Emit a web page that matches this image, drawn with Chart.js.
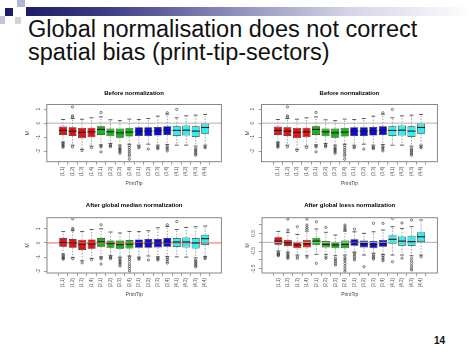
<!DOCTYPE html>
<html><head><meta charset="utf-8">
<script src="https://cdn.jsdelivr.net/npm/chart.js@4.4.1/dist/chart.umd.min.js"></script>
<style>
html,body{margin:0;padding:0;background:#fff;}
body{width:474px;height:355px;position:relative;overflow:hidden;font-family:'Liberation Sans',Arial,sans-serif;}
canvas{position:absolute;}
.sq{position:absolute;}
#bar{position:absolute;left:26px;top:7px;width:448px;height:9px;background:linear-gradient(to right,#1e1e68 0%,#3c3c84 18%,#8a8ab8 45%,#d4d4e6 72%,#ffffff 100%);}
#title{position:absolute;left:28px;top:18.4px;font-size:23.5px;line-height:22.3px;color:#111;white-space:nowrap;}
#page{position:absolute;left:434px;top:335px;font-size:10px;font-weight:bold;color:#111;}
</style></head><body>
<div class="sq" style="left:17px;top:0;width:8px;height:7px;background:#b4b4d8"></div>
<div class="sq" style="left:5px;top:8px;width:8px;height:8px;background:#1e1e66"></div>
<div class="sq" style="left:0;top:16px;width:5px;height:8px;background:#c4c4de"></div>
<div class="sq" style="left:15px;top:17px;width:6px;height:7px;background:#d4d4d4"></div>
<div id="bar"></div>
<div id="title">Global normalisation does not correct<br>spatial bias (print-tip-sectors)</div>
<div id="page">14</div>
<canvas id="cTL" width="208" height="106" style="left:18px;top:84px"></canvas>
<canvas id="cTR" width="206" height="106" style="left:236px;top:84px"></canvas>
<canvas id="cBL" width="208" height="106" style="left:18px;top:196px"></canvas>
<canvas id="cBR" width="206" height="106" style="left:236px;top:196px"></canvas>
<script>
// ---------- data ----------
const printTips = ['(1,1)','(1,2)','(1,3)','(1,4)','(2,1)','(2,2)','(2,3)','(2,4)',
                   '(3,1)','(3,2)','(3,3)','(3,4)','(4,1)','(4,2)','(4,3)','(4,4)'];
const tipColors = ['#e81010','#e81010','#e81010','#e81010','#14b814','#14b814','#14b814','#14b814',
                   '#0a0ae6','#0a0ae6','#0a0ae6','#0a0ae6','#2ef0f0','#2ef0f0','#2ef0f0','#2ef0f0'];

// Before normalization
const beforeQ1  = [-0.85,-0.92,-1.07,-1.01,-0.85,-0.94,-1.04,-0.96,-0.92,-0.92,-0.89,-0.85,-0.92,-0.89,-0.99,-0.76];
const beforeMed = [-0.52,-0.57,-0.66,-0.62,-0.45,-0.62,-0.69,-0.64,-0.57,-0.57,-0.55,-0.50,-0.52,-0.50,-0.57,-0.31];
const beforeQ3  = [-0.24,-0.29,-0.34,-0.32,-0.22,-0.39,-0.39,-0.34,-0.29,-0.29,-0.27,-0.22,-0.22,-0.17,-0.22,0.00];
const beforeHi  = [0.26,0.33,0.28,0.38,0.45,0.24,0.18,0.29,0.26,0.33,0.50,0.64,0.38,0.52,0.57,0.62];
const beforeLo  = [-1.35,-1.57,-1.86,-1.64,-1.55,-1.45,-1.57,-1.50,-1.57,-1.50,-1.57,-1.52,-1.57,-1.57,-1.64,-1.57];
const beforeOut = [[-1.42,-1.5,-1.58,-1.65,-1.72],[0.42,0.52,1.16,-1.7],[-1.95],[-1.75],
                   [0.76,-1.62,-1.7,-2.05],[-1.55,-1.62,-1.68],[-1.7,-1.8,-1.88,-1.95,-2.05,-2.15],[-1.6,-1.75,-1.9,-2.05,-2.2,-2.35,-2.57],
                   [-1.7,-1.75],[-1.85],[-1.7,-1.75,-1.82],[0.74,-1.65,-1.75,-1.85,-1.98],
                   [0.98],[],[-1.8,-1.9,-2.0,-2.1,-2.2,-2.29],[-1.7,-1.75]];
const beforeTicks = [-2,-1,0,1];
const beforeTickLabels = ['-2','-1','0','1'];

// After global median normalization
const medianQ1  = [-0.27,-0.34,-0.50,-0.41,-0.27,-0.34,-0.41,-0.39,-0.34,-0.34,-0.32,-0.27,-0.29,-0.32,-0.39,-0.15];
const medianMed = [0.02,0.00,-0.09,-0.07,0.09,-0.05,-0.12,-0.09,-0.05,-0.02,0.00,0.05,0.07,0.07,0.00,0.30];
const medianQ3  = [0.34,0.27,0.23,0.25,0.34,0.18,0.18,0.20,0.25,0.27,0.27,0.34,0.34,0.39,0.34,0.57];
const medianHi  = [0.80,0.86,0.81,0.95,1.00,0.77,0.70,0.81,0.80,0.86,1.07,1.16,0.95,1.09,1.14,1.19];
const medianLo  = [-0.78,-1.02,-1.26,-1.09,-0.98,-0.90,-1.00,-0.92,-1.00,-0.92,-0.98,-0.95,-0.98,-1.00,-1.05,-0.95];
const medianOut = [[-0.86,-0.95,-1.02,-1.1,-1.14],[0.95,1.02,1.70,-1.12],[-1.4],[-1.18],
                   [1.28,-1.05,-1.12,-1.49],[-0.98,-1.05,-1.1],[-1.09,-1.2,-1.3,-1.4,-1.5,-1.63],[-1.0,-1.15,-1.3,-1.5,-1.65,-1.8,-1.98],
                   [-1.09,-1.15],[-1.2],[-1.05,-1.12,-1.2],[1.28,-1.05,-1.15,-1.3,-1.42],
                   [1.51],[],[-1.2,-1.3,-1.4,-1.5,-1.6,-1.68],[-1.05,-1.1]];
const medianTicks = [-2,-1,0,1];
const medianTickLabels = ['-2','-1','0','1'];

// After global loess normalization
const loessQ1  = [-0.14,-0.21,-0.34,-0.29,-0.16,-0.29,-0.33,-0.33,-0.19,-0.29,-0.33,-0.25,-0.10,-0.19,-0.21,0.00];
const loessMed = [0.07,-0.02,-0.15,-0.08,0.07,-0.12,-0.15,-0.12,0.02,-0.08,-0.13,-0.06,0.17,0.07,0.04,0.32];
const loessQ3  = [0.29,0.14,0.03,0.14,0.26,0.07,0.01,0.10,0.18,0.10,0.07,0.14,0.41,0.33,0.37,0.58];
const loessHi  = [0.62,0.57,0.45,0.64,0.76,0.57,0.41,0.64,0.60,0.51,0.60,0.70,0.89,0.79,0.89,1.27];
const loessLo  = [-0.49,-0.55,-0.72,-0.76,-0.68,-0.68,-0.76,-0.72,-0.55,-0.72,-0.62,-0.68,-0.72,-0.72,-0.76,-0.72];
const loessOut = [[-0.57,-0.62,-0.68,-0.72,-0.76],[1.32,0.70,-0.63,-0.7,-0.78,-0.85,-0.91],[0.89,-0.82,-0.91],[1.32,0.98,0.85,0.75,-0.85],
                  [1.17,-1.19],[0.85,-0.82,-0.91],[-0.91,-1.0,-1.1,-1.2,-1.29],[0.98,0.88,0.78,0.70,-0.85,-0.95,-1.05,-1.2,-1.35,-1.5,-1.63],
                  [0.75,-0.62,-0.7,-0.8,-0.9,-1.0],[-1.38],[1.08,-0.72,-0.8,-0.88,-0.95],[1.08,-0.75,-0.85,-0.95,-1.05],
                  [1.36,-1.1],[1.1,-0.9],[1.27,-0.91,-1.05,-1.2,-1.35,-1.48,-1.57],[-0.82]];
const loessTicks = [-1.5,-1,-0.5,0,0.5,1];
const loessTickLabels = ['-1.5','','-0.5','','0.5',''];

// ---------- drawing ----------
const FAM = "'Liberation Sans', Arial, sans-serif";

const boxExtras = {
  id: 'boxExtras',
  afterDatasetsDraw(chart, args, o) {
    const {ctx, chartArea: a, scales: {x, y}} = chart;
    const meta = chart.getDatasetMeta(0);
    ctx.save();
    o.q1.forEach((q, i) => {
      const px = x.getPixelForValue(i);
      const bw = meta.data[i].width;
      const yq1 = y.getPixelForValue(q), yq3 = y.getPixelForValue(o.q3[i]);
      const ylo = y.getPixelForValue(o.lo[i]), yhi = y.getPixelForValue(o.hi[i]);
      ctx.setLineDash([1.5, 1.5]); ctx.strokeStyle = '#8c8c8c'; ctx.lineWidth = 0.8;
      ctx.beginPath(); ctx.moveTo(px, yq3); ctx.lineTo(px, yhi); ctx.moveTo(px, yq1); ctx.lineTo(px, ylo); ctx.stroke();
      ctx.setLineDash([]); ctx.strokeStyle = '#333'; ctx.lineWidth = 0.8;
      ctx.beginPath(); ctx.moveTo(px - bw / 4, yhi); ctx.lineTo(px + bw / 4, yhi);
      ctx.moveTo(px - bw / 4, ylo); ctx.lineTo(px + bw / 4, ylo); ctx.stroke();
    });
    const y0 = y.getPixelForValue(0);
    ctx.strokeStyle = o.refColor; ctx.lineWidth = 1;
    ctx.beginPath(); ctx.moveTo(a.left, y0); ctx.lineTo(a.right, y0); ctx.stroke();
    ctx.strokeStyle = '#1a1a1a'; ctx.lineWidth = 1.1;
    o.med.forEach((m, i) => {
      const px = x.getPixelForValue(i), bw = meta.data[i].width, py = y.getPixelForValue(m);
      ctx.beginPath(); ctx.moveTo(px - bw / 2, py); ctx.lineTo(px + bw / 2, py); ctx.stroke();
    });
    ctx.strokeStyle = '#858585'; ctx.lineWidth = 1;
    ctx.strokeRect(a.left, a.top, a.right - a.left, a.bottom - a.top);
    ctx.restore();
  },
  afterDraw(chart, args, o) {
    const {ctx, chartArea: a, scales: {y}} = chart;
    ctx.save();
    ctx.fillStyle = '#555'; ctx.font = '5px ' + FAM;
    ctx.textAlign = 'center'; ctx.textBaseline = 'middle';
    y.ticks.forEach((t, i) => {
      const lab = o.tickLabels[i];
      if (!lab) return;
      ctx.save();
      ctx.translate(a.left - 8.5, y.getPixelForValue(t.value));
      ctx.rotate(-Math.PI / 2);
      ctx.fillText(lab, 0, 0);
      ctx.restore();
    });
    ctx.restore();
  }
};

function makePanel(id, lay, titleText, yMin, yMax, q1, med, q3, hi, lo, outs, yTicks, yTickLabels, refColor) {
  const cv = document.getElementById(id);
  const cx = parseFloat(cv.style.left), cy = parseFloat(cv.style.top);
  const cw = cv.width, ch = cv.height;
  const yW = lay.L - cx;
  const xH = cy + ch - lay.B;
  const padR = cx + cw - lay.R;
  const tPadTop = lay.titleY - cy - 3.6;
  const tPadBot = lay.T - cy - tPadTop - 7.2;
  const xtPad = cy + ch - 3 - lay.xTitleY;
  const ytPad = lay.mX - cx - 3.3;
  const outPts = outs.flatMap((vals, i) => vals.map(v => ({x: i, y: v})));
  return new Chart(cv, {
    type: 'bar',
    data: {
      datasets: [
        { type: 'bar', data: printTips.map((_, i) => ({x: i, y: [q1[i], q3[i]]})),
          backgroundColor: tipColors, borderColor: '#222', borderWidth: 0.7, borderSkipped: false,
          barPercentage: 0.84, categoryPercentage: 1.0 },
        { type: 'scatter', data: outPts, showLine: false, pointStyle: 'circle', pointRadius: 1.15,
          pointBackgroundColor: 'rgba(0,0,0,0)', pointBorderColor: '#2a2a2a', pointBorderWidth: 0.6 }
      ]
    },
    options: {
      responsive: false, animation: false, events: [],
      layout: { padding: { left: 0, top: 0, right: padR, bottom: 0 } },
      plugins: {
        legend: { display: false }, tooltip: { enabled: false },
        title: { display: true, text: titleText, fullSize: false, color: '#000',
                 font: { size: 6, weight: 'bold', family: FAM, lineHeight: 1.2 },
                 padding: { top: tPadTop, bottom: tPadBot } },
        boxExtras: { q1, med, q3, hi, lo, refColor, tickLabels: yTickLabels }
      },
      scales: {
        x: { type: 'linear', min: -1.14, max: 16.14,
             afterBuildTicks: s => { s.ticks = printTips.map((_, i) => ({ value: i })); },
             afterFit: s => { s.height = xH; },
             ticks: { autoSkip: false, minRotation: 90, maxRotation: 90, padding: 2, color: '#555',
                      font: { size: 4.5, family: FAM }, callback: v => printTips[v] },
             grid: { drawOnChartArea: false, drawTicks: true, tickLength: 3, color: '#777', lineWidth: 0.7 },
             border: { display: false },
             title: { display: true, text: 'PrintTip', color: '#444', font: { size: 5, family: FAM, lineHeight: 1.2 },
                      padding: { top: 0, bottom: xtPad } } },
        y: { type: 'linear', min: yMin, max: yMax,
             afterBuildTicks: s => { s.ticks = yTicks.map(v => ({ value: v })); },
             afterFit: s => { s.width = yW; },
             ticks: { display: false },
             grid: { drawOnChartArea: false, drawTicks: true, tickLength: 3, color: '#777', lineWidth: 0.7 },
             border: { display: false },
             title: { display: true, text: 'M', color: '#444', font: { size: 5.5, family: FAM, lineHeight: 1.2 },
                      padding: { top: ytPad, bottom: 0 } } }
      }
    },
    plugins: [boxExtras]
  });
}

makePanel('cTL', {L:46.8, R:221.7, T:104.5, B:161.7, titleY:93, mX:27.5, xTitleY:183.2},
  'Before normalization', -2.75, 1.33, beforeQ1, beforeMed, beforeQ3, beforeHi, beforeLo, beforeOut,
  beforeTicks, beforeTickLabels, '#b0b0b0');
makePanel('cTR', {L:261.5, R:438, T:104.5, B:161.7, titleY:93, mX:247, xTitleY:183.2},
  'Before normalization', -2.75, 1.33, beforeQ1, beforeMed, beforeQ3, beforeHi, beforeLo, beforeOut,
  beforeTicks, beforeTickLabels, '#b0b0b0');
makePanel('cBL', {L:47, R:222.3, T:217.7, B:273, titleY:205, mX:27.5, xTitleY:294.3},
  'After global median normalization', -2.12, 1.78, medianQ1, medianMed, medianQ3, medianHi, medianLo, medianOut,
  medianTicks, medianTickLabels, '#f06060');
makePanel('cBR', {L:262, R:438, T:217.7, B:273, titleY:205, mX:247, xTitleY:294.3},
  'After global loess normalization', -1.74, 1.40, loessQ1, loessMed, loessQ3, loessHi, loessLo, loessOut,
  loessTicks, loessTickLabels, '#b0b0b0');
</script>
</body></html>
